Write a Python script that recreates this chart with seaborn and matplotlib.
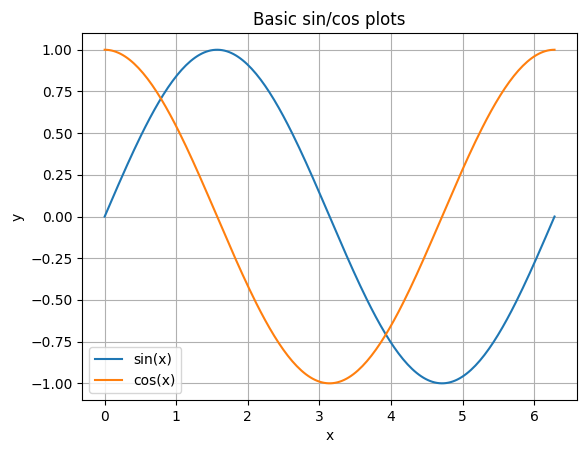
import numpy as np
import pandas as pd
import matplotlib
matplotlib.use("Agg")
import matplotlib.pyplot as plt
import seaborn as sns

# the chart is a plot of the two functions over one full period
x = np.linspace(0, 2 * np.pi, 200)
sin_y = np.sin(x)
cos_y = np.cos(x)
series_names = ["sin(x)", "cos(x)"]

df = pd.DataFrame({
    "x": np.concatenate([x, x]),
    "y": np.concatenate([sin_y, cos_y]),
    "func": np.repeat(series_names, len(x)),
})

fig, ax = plt.subplots(figsize=(5.87, 4.53), dpi=100)
sns.lineplot(data=df, x="x", y="y", hue="func", palette=["#1f77b4", "#ff7f0e"],
             ax=ax, linewidth=1.5)
ax.set_title("Basic sin/cos plots")
ax.set_xlabel("x")
ax.set_ylabel("y")
ax.grid(True)
ax.set_yticks(np.arange(-1.0, 1.01, 0.25))
ax.legend(loc="lower left")
fig.subplots_adjust(left=0.14, right=0.983, top=0.927, bottom=0.117)
fig.savefig("out.png", dpi=100)
